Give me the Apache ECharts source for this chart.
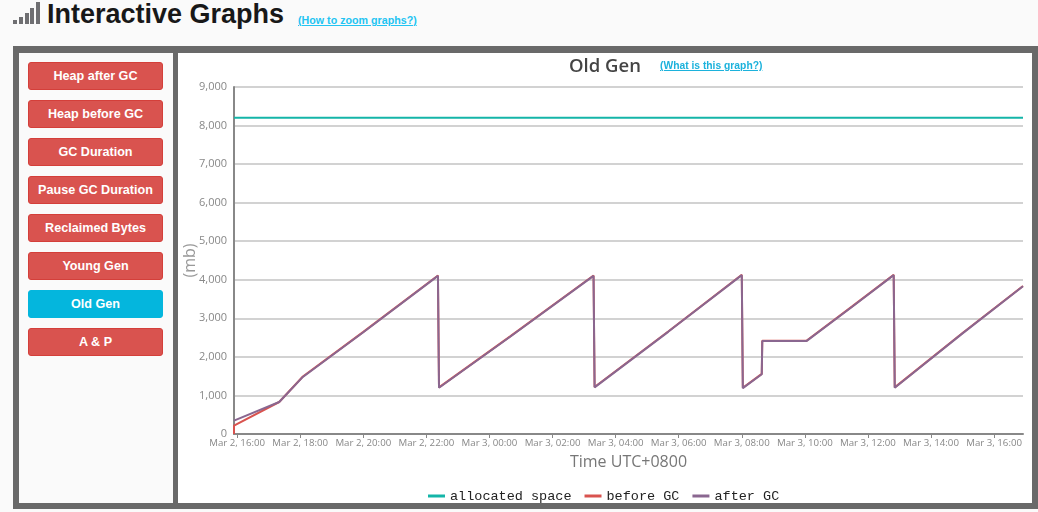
<!DOCTYPE html>
<html>
<head>
<meta charset="utf-8">
<title>Interactive Graphs</title>
<script src="https://cdn.jsdelivr.net/npm/echarts@6/dist/echarts.min.js"></script>
<style>
html, body { margin: 0; padding: 0; background: #fafafa; width: 1038px; height: 512px; overflow: hidden; font-family: "Liberation Sans", sans-serif; }
.bars i { position: absolute; bottom: 488px; width: 4px; background: #6f6f72; }
h1 { position: absolute; left: 47px; top: -2px; margin: 0; font-size: 27px; line-height: 32px; font-weight: bold; color: #181818; }
a { position: absolute; font-size: 10.7px; line-height: 14px; font-weight: bold; text-decoration: underline; white-space: nowrap; }
#howto { left: 298px; top: 13px; color: #22c4f2; }
#what { left: 660px; top: 59px; color: #1cb2dc; z-index: 2; font-size: 10.3px; }
#frame { position: absolute; left: 13px; top: 46px; width: 1025px; height: 463px; background: #696969; }
#side { position: absolute; left: 19px; top: 53px; width: 154px; height: 450px; background: #fafafa; }
#main { position: absolute; left: 178px; top: 53px; width: 854px; height: 450px; background: #fff; }
.btn { position: absolute; left: 28px; width: 133px; height: 26px; line-height: 27px; text-align: center; font-size: 12.6px; font-weight: bold; color: #fff; background: #d9534f; border: 1px solid #d43f3a; border-radius: 3px; }
.btn.on { background: #04b6dd; border-color: #04b6dd; }
</style>
</head>
<body>
<div class="bars"><i style="left:13px;height:4px"></i><i style="left:19px;height:7px"></i><i style="left:25px;height:11px"></i><i style="left:30px;height:16px"></i><i style="left:36px;height:22px"></i></div>
<h1>Interactive Graphs</h1>
<a id="howto">(How to zoom graphs?)</a>
<div id="frame"></div>
<div id="side"></div>
<div id="buttons"></div>
<div id="main"></div>
<a id="what">(What is this graph?)</a>
<script>
var buttons = ['Heap after GC', 'Heap before GC', 'GC Duration', 'Pause GC Duration', 'Reclaimed Bytes', 'Young Gen', 'Old Gen', 'A & P'];

var axisStart = '2017-03-02 15:54';
var axisEnd = '2017-03-03 16:55';
var tickTimes = ['2017-03-02 16:00', '2017-03-02 18:00', '2017-03-02 20:00', '2017-03-02 22:00', '2017-03-03 00:00', '2017-03-03 02:00', '2017-03-03 04:00', '2017-03-03 06:00', '2017-03-03 08:00', '2017-03-03 10:00', '2017-03-03 12:00', '2017-03-03 14:00', '2017-03-03 16:00'];
var tickLabels = ['Mar 2, 16:00', 'Mar 2, 18:00', 'Mar 2, 20:00', 'Mar 2, 22:00', 'Mar 3, 00:00', 'Mar 3, 02:00', 'Mar 3, 04:00', 'Mar 3, 06:00', 'Mar 3, 08:00', 'Mar 3, 10:00', 'Mar 3, 12:00', 'Mar 3, 14:00', 'Mar 3, 16:00'];

var allocatedTimes = ['2017-03-02 15:54', '2017-03-03 16:55'];
var allocatedValues = [8200, 8200];

var beforeTimes = ['2017-03-02 15:54', '2017-03-02 15:54', '2017-03-02 17:20', '2017-03-02 18:05', '2017-03-02 20:00', '2017-03-02 22:22', '2017-03-02 22:24', '2017-03-03 00:40', '2017-03-03 03:18', '2017-03-03 03:20', '2017-03-03 05:40', '2017-03-03 08:00', '2017-03-03 08:02', '2017-03-03 08:38', '2017-03-03 08:39', '2017-03-03 10:03', '2017-03-03 11:30', '2017-03-03 12:49', '2017-03-03 12:51', '2017-03-03 15:00', '2017-03-03 16:55'];
var beforeValues = [0, 215, 830, 1490, 2650, 4110, 1210, 2540, 4110, 1220, 2660, 4130, 1200, 1560, 2420, 2420, 3310, 4130, 1210, 2620, 3840];

var afterTimes = ['2017-03-02 15:54', '2017-03-02 17:20', '2017-03-02 18:05', '2017-03-02 20:00', '2017-03-02 22:22', '2017-03-02 22:24', '2017-03-03 00:40', '2017-03-03 03:18', '2017-03-03 03:20', '2017-03-03 05:40', '2017-03-03 08:00', '2017-03-03 08:02', '2017-03-03 08:38', '2017-03-03 08:39', '2017-03-03 10:03', '2017-03-03 11:30', '2017-03-03 12:49', '2017-03-03 12:51', '2017-03-03 15:00', '2017-03-03 16:55'];
var afterValues = [345, 830, 1480, 2640, 4100, 1200, 2530, 4100, 1210, 2650, 4120, 1190, 1550, 2410, 2410, 3300, 4120, 1200, 2610, 3830];

var yTicks = [0, 9000, 1000];

function toMs(s) {
    return new Date(s.replace(' ', 'T') + ':00').getTime();
}
function pairs(times, values) {
    var res = [];
    for (var i = 0; i < times.length; i++) {
        res.push([toMs(times[i]), values[i]]);
    }
    return res;
}

var box = document.getElementById('buttons');
for (var i = 0; i < buttons.length; i++) {
    var b = document.createElement('div');
    b.className = buttons[i] === 'Old Gen' ? 'btn on' : 'btn';
    b.style.top = (62 + i * 38) + 'px';
    b.textContent = buttons[i];
    box.appendChild(b);
}

var tickMs = tickTimes.map(toMs);

var myChart = echarts.init(document.getElementById('main'));
var option = {
    animation: false,
    color: ['#14b5a8', '#d9534f', '#8a6790'],
    title: {
        text: 'Old Gen',
        left: 386,
        top: -1,
        textStyle: { fontFamily: 'Open Sans', fontSize: 18.5, fontWeight: 600, color: '#444' }
    },
    grid: { left: 56, right: 9, top: 34, bottom: 69, outerBoundsMode: 'none' },
    legend: {
        top: 436,
        left: 250,
        padding: 0,
        itemWidth: 17,
        itemHeight: 3,
        itemGap: 13,
        icon: 'rect',
        textStyle: { fontFamily: 'Liberation Mono', fontSize: 13.5, color: '#222' },
        data: ['allocated space', 'before GC', 'after GC']
    },
    // the time values stay in ms on a value axis so ticks can sit on the even hours
    xAxis: {
        type: 'value',
        min: toMs(axisStart),
        max: toMs(axisEnd),
        name: 'Time UTC+0800',
        nameLocation: 'middle',
        nameGap: 20,
        nameTextStyle: { fontFamily: 'Open Sans', fontSize: 16, color: '#777' },
        axisLine: { lineStyle: { color: '#888', width: 2 } },
        axisTick: { show: true, length: 4, customValues: tickMs, lineStyle: { color: '#888' } },
        axisLabel: {
            customValues: tickMs,
            hideOverlap: false,
            margin: 4,
            fontFamily: 'Open Sans',
            fontSize: 9.7,
            color: '#888',
            formatter: function (v) {
                return tickLabels[tickMs.indexOf(v)];
            }
        },
        splitLine: { show: false }
    },
    yAxis: {
        type: 'value',
        min: yTicks[0],
        max: yTicks[1],
        interval: yTicks[2],
        name: '(mb)',
        nameLocation: 'middle',
        nameGap: 36,
        nameMoveOverlap: false,
        nameTextStyle: { fontFamily: 'Open Sans', fontSize: 16, color: '#999' },
        axisLine: { show: true, lineStyle: { color: '#888', width: 2 } },
        axisTick: { show: false },
        axisLabel: {
            margin: 7,
            fontFamily: 'Open Sans',
            fontSize: 11,
            color: '#888',
            formatter: function (v) {
                return echarts.format.addCommas(v);
            }
        },
        splitLine: { lineStyle: { color: '#d2d2d2', width: 2 } }
    },
    series: [
        { name: 'allocated space', type: 'line', showSymbol: false, lineStyle: { width: 2 }, data: pairs(allocatedTimes, allocatedValues) },
        { name: 'before GC', type: 'line', showSymbol: false, lineStyle: { width: 2 }, data: pairs(beforeTimes, beforeValues) },
        { name: 'after GC', type: 'line', showSymbol: false, lineStyle: { width: 2 }, data: pairs(afterTimes, afterValues) }
    ]
};
myChart.setOption(option);
</script>
</body>
</html>
